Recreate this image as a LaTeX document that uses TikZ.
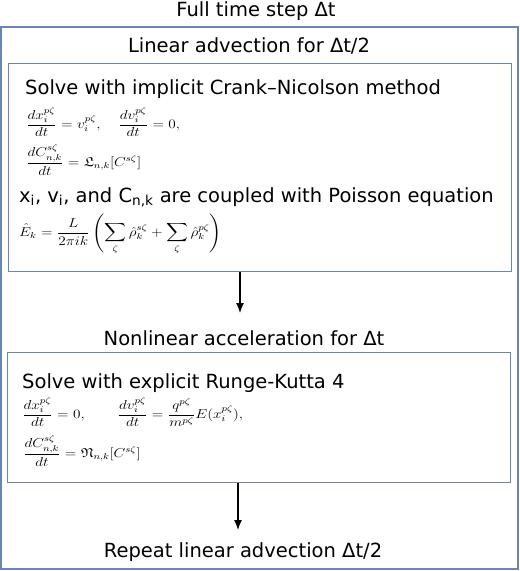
\documentclass[tikz,border=0pt]{standalone}
\usepackage[no-math]{fontspec}
\setmainfont{DejaVu Sans}
\usepackage{amsmath,amssymb}
\usetikzlibrary{arrows.meta}
\definecolor{boxblue}{HTML}{6A86AE}
\newcommand{\stepeq}[1]{\scalebox{1.27}[1.08]{$\displaystyle #1$}}

\begin{document}
\begin{tikzpicture}[x=1pt,y=-1pt,>={Latex[length=10pt,width=8pt]}]
\tikzset{frame/.style={draw=boxblue,line width=1.3pt},
  head/.style={font=\fontsize{19.5}{23}\selectfont,inner sep=0pt,anchor=base},
  eq/.style={font=\fontsize{12}{14}\selectfont,inner sep=0pt,anchor=west},
  flow/.style={->,line width=1.2pt,shorten >=14pt}}
\useasboundingbox (0,0) rectangle (520,571);
% frames
\draw[frame] (1,27) rectangle (518,569);
\node[frame,inner sep=0pt,minimum width=503pt,minimum height=208pt,anchor=north west] (lin) at (8,63) {};
\node[frame,inner sep=0pt,minimum width=503pt,minimum height=130pt,anchor=north west] (nonlin) at (7,352) {};
% headings
\node[head] (full) at (256,16) {Full time step Δt};
\node[head] (linhead) at (249,52) {Linear advection for Δt/2};
\node[head] (nonhead) at (244,345) {Nonlinear acceleration for Δt};
\node[head] (repeat) at (243,557) {Repeat linear advection Δt/2};
% linear advection
\node[head,anchor=base west] (cn) at (25,94) {Solve with implicit Crank–Nicolson method};
\node[eq] (cn1) at (26,122) {\stepeq{\frac{dx_i^{p\zeta}}{dt}=v_i^{p\zeta},\quad\frac{dv_i^{p\zeta}}{dt}=0,}};
\node[eq] (cn2) at (26,160) {\stepeq{\frac{dC_{n,k}^{s\zeta}}{dt}=\mathfrak{L}_{n,k}[C^{s\zeta}]}};
\node[head,anchor=base west] (pois) at (19,202) {x\textsubscript{i}, v\textsubscript{i}, and C\textsubscript{n,k} are coupled with Poisson equation};
\node[eq] (ek) at (19,234) {\stepeq{\hat{E}_k=\frac{L}{2\pi ik}\left(\sum_\zeta\hat{\rho}_k^{s\zeta}+\sum_\zeta\hat{\rho}_k^{p\zeta}\right)}};
% nonlinear acceleration
\node[head,anchor=base west] (rk) at (22,388) {Solve with explicit Runge-Kutta 4};
\node[eq] (rk1) at (22,412) {\stepeq{\frac{dx_i^{p\zeta}}{dt}=0,\qquad\frac{dv_i^{p\zeta}}{dt}=\frac{q^{p\zeta}}{m^{p\zeta}}E(x_i^{p\zeta}),}};
\node[eq] (rk2) at (23,451) {\stepeq{\frac{dC_{n,k}^{s\zeta}}{dt}=\mathfrak{N}_{n,k}[C^{s\zeta}]}};
% arrows
\draw[flow] (lin.south -| 240,0) -- (240,327);
\draw[flow] (nonlin.south -| 238,0) -- (238,544);
\end{tikzpicture}
\end{document}
